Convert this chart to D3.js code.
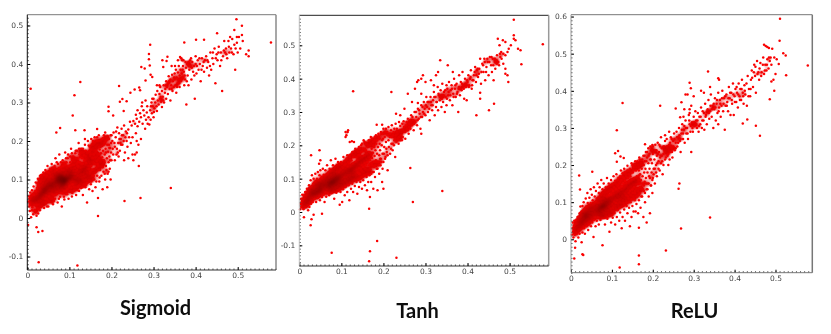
<!DOCTYPE html>
<html>
<head>
<meta charset="utf-8">
<script src="https://cdnjs.cloudflare.com/ajax/libs/d3/7.8.5/d3.min.js"></script>
<style>
    html, body { margin: 0; padding: 0; background: #fff; }
    svg { display: block; }
    .tick text { font-family: "DejaVu Sans", sans-serif; fill: #444; }
    .title { font-family: Lato, "Open Sans", sans-serif; font-weight: 700; fill: #111; }
</style>
</head>
<body>
<div id="content"></div>
<script>
// values, [x, y]
var xTicks = [0, 0.1, 0.2, 0.3, 0.4, 0.5];
var sigmoidTicks = [-0.1, 0, 0.1, 0.2, 0.3, 0.4, 0.5];
var tanhTicks = [-0.1, 0, 0.1, 0.2, 0.3, 0.4, 0.5];
var reluTicks = [0, 0.1, 0.2, 0.3, 0.4, 0.5, 0.6];

var sigmoidPoints = [
[.008,.336],[.027,-.115],[.119,-.123],[.026,-.036],[.036,-.034],[.022,-.024],[.002,-.018],[.168,.005],[.231,.044],[.269,.052],[.341,.078],[.126,.353],[.112,.319],[.108,.266],[.069,.222],[.078,.234],[.114,.228],[.136,.228],[.166,.231],[.218,.343],[.193,.289],[.193,.277],[.22,.302],[.226,.309],[.236,.303],[.204,.266],[.229,.278],[.245,.325],[.255,.334],[.266,.339],[.268,.332],
[.497,.516],[.51,.499],[.451,.48],[.492,.488],[.373,.456],[.401,.463],[.42,.463],[.579,.456],[.292,.45],[.289,.426],[.289,.412],[.291,.396],[.271,.392],[.279,.388],[.281,.357],[.293,.372],[.297,.366],[.323,.392],[.333,.419],[.331,.408],[.321,.41],[.463,.33],[.494,.385],[.398,.31],[.378,.295],
[.252,.252],[.256,.245],[.26,.258],[.262,.238],[.266,.25],[.268,.272],[.27,.262],[.274,.245],[.276,.28],[.278,.266],[.28,.232],[.282,.255],[.284,.274],[.285,.29],[.288,.262],[.29,.243],[.292,.28],[.293,.255],[.295,.3],[.296,.272],[.298,.29],[.3,.31],[.3,.262],[.302,.285],[.304,.3],[.305,.32],[.307,.29],[.308,.278],[.31,.305],[.312,.295],[.314,.322],[.315,.31],[.316,.34],[.318,.302],[.32,.33],[.32,.288],[.322,.315],[.324,.345],[.325,.3],[.327,.325],[.328,.335],[.33,.355],[.33,.31],[.332,.34],[.334,.322],[.335,.35],[.336,.368],[.338,.335],[.34,.36],[.34,.305],[.342,.345],[.344,.372],[.345,.33],[.346,.355],[.348,.34],[.35,.375],[.35,.36],[.352,.345],[.353,.385],[.354,.325],[.355,.365],[.357,.35],[.358,.378],[.36,.395],[.36,.36],[.362,.37],[.362,.34],[.364,.385],[.365,.355],[.366,.415],[.367,.375],[.368,.41],[.37,.365],[.37,.395],[.372,.38],[.373,.345],[.375,.36],[.376,.405],[.377,.39],[.38,.4],[.381,.37],[.383,.345],[.385,.385],[.387,.41],[.388,.395],[.39,.36],[.392,.405],[.394,.38],[.396,.395],[.4,.42],[.4,.4],[.402,.375],[.405,.41],[.407,.385],[.41,.4],[.412,.355],[.415,.415],[.417,.395],[.42,.38],[.422,.41],[.425,.42],[.427,.39],[.43,.405],[.432,.37],[.435,.43],[.437,.385],[.44,.415],[.442,.4],[.445,.44],[.447,.35],[.45,.425],[.452,.41],[.455,.445],[.458,.395],[.46,.43],[.465,.42],[.468,.46],[.47,.43],[.472,.44],[.475,.415],[.478,.46],[.48,.43],[.482,.47],[.484,.44],[.487,.465],[.49,.425],[.495,.44],[.498,.455],[.5,.43],[.503,.47],[.506,.44],[.51,.475],[.512,.46],[.52,.425],[.526,.42],[.526,.435],
[.202,.2],[.205,.222],[.208,.185],[.21,.21],[.212,.165],[.214,.235],[.216,.195],[.218,.22],[.22,.175],[.222,.205],[.224,.232],[.226,.19],[.228,.215],[.23,.24],[.232,.17],[.234,.225],[.236,.2],[.238,.185],[.24,.23],[.242,.21],[.244,.25],[.246,.195],[.248,.24],[.25,.21],[.23,.15],[.24,.155],[.25,.165],[.252,.15],[.256,.165],[.26,.17],[.265,.135],[.27,.205],[.26,.2],[.258,.22],[.264,.19],
[.002,.042],[.003,.057],[.004,.03],[.005,.05],[.006,.018],[.007,.066],[.008,.04],[.009,.002],[.01,.055],[.011,.072],[.012,.028],[.013,.048],[.014,.01],[.015,.082],[.016,.06],[.017,.035],[.018,.02],[.019,.07],[.02,.092],[.021,.05],[.021,.04],[.022,.006],[.023,.078],[.024,.025],[.024,.062],[.025,.102],[.026,.045],[.026,.012],[.027,.086],[.028,.035],[.028,.068],[.029,.055],[.03,.11],[.03,.02],[.031,.075],[.032,.094],[.032,.045],[.033,.06],[.034,.03],[.034,.085],[.035,.105],[.036,.052],[.036,.07],[.037,.04],[.038,.118],[.038,.09],[.039,.062],[.04,.026],[.04,.08],[.041,.1],[.042,.05],[.042,.072],[.043,.125],[.044,.088],[.044,.038],[.045,.06],[.046,.11],[.046,.078],[.047,.048],[.048,.135],[.048,.095],[.049,.066],[.05,.03],[.05,.084],[.051,.118],[.052,.056],[.052,.074],[.053,.1],[.054,.042],[.054,.128],[.055,.088],[.056,.065],[.056,.108],[.057,.08],[.058,.05],[.058,.14],[.059,.095],[.06,.072],[.06,.118],[.061,.036],[.062,.086],[.062,.105],[.063,.06],[.064,.13],[.064,.078],[.065,.098],[.066,.05],[.066,.115],[.067,.155],[.068,.088],[.068,.07],[.069,.106],[.07,.125],[.07,.062],[.071,.094],[.072,.04],[.072,.08],[.073,.14],[.074,.11],[.074,.1],[.075,.072],[.076,.165],[.076,.09],[.077,.12],[.078,.055],[.078,.085],[.079,.105],[.08,.132],[.08,.076],[.081,.096],[.082,.114],[.082,.03],[.083,.064],[.083,.09],[.084,.15],[.084,.104],[.085,.082],[.086,.125],[.086,.098],[.087,.07],[.088,.11],[.088,.048],[.089,.092],[.09,.17],[.09,.138],[.09,.102],[.091,.082],[.092,.118],[.092,.062],[.093,.096],[.094,.128],[.094,.106],[.095,.075],[.096,.155],[.096,.09],[.097,.112],[.098,.05],[.098,.1],[.099,.135],[.1,.084],[.1,.12],[.101,.068],[.102,.108],[.102,.145],[.103,.095],[.104,.18],[.104,.128],[.105,.078],[.106,.114],[.106,.056],[.107,.102],[.108,.138],[.108,.088],[.109,.16],[.11,.122],[.11,.07],[.111,.106],[.112,.148],[.112,.095],[.113,.13],[.114,.08],[.114,.115],[.115,.175],[.116,.105],[.116,.06],[.117,.14],[.118,.092],[.118,.125],[.119,.155],[.12,.11],[.12,.082],[.121,.134],[.122,.195],[.122,.1],[.123,.07],[.124,.12],[.124,.165],[.125,.145],[.126,.09],[.126,.112],[.127,.13],[.128,.18],[.128,.078],[.129,.105],[.13,.155],[.13,.124],[.131,.096],[.132,.14],[.132,.06],[.133,.115],[.134,.17],[.134,.088],[.135,.132],[.136,.15],[.136,.108],[.137,.19],[.138,.125],[.138,.08],[.139,.1],[.14,.16],[.14,.142],[.141,.118],[.142,.04],[.142,.09],[.143,.135],[.144,.2],[.144,.17],[.145,.11],[.146,.152],[.146,.128],[.147,.075],[.148,.185],[.148,.1],[.149,.143],[.15,.12],[.15,.165],[.151,.088],[.152,.135],[.152,.205],[.153,.155],[.154,.11],[.155,.178],[.155,.07],[.156,.145],[.157,.125],[.158,.19],[.158,.165],[.159,.1],[.16,.14],[.16,.21],[.161,.118],[.162,.158],[.162,.08],[.163,.175],[.164,.13],[.165,.2],[.165,.148],[.166,.11],[.167,.165],[.168,.19],[.168,.052],[.169,.135],[.17,.155],[.17,.215],[.171,.095],[.172,.178],[.173,.125],[.174,.148],[.174,.2],[.175,.168],[.176,.11],[.177,.188],[.178,.138],[.178,.158],[.179,.075],[.18,.208],[.18,.175],[.181,.12],[.182,.15],[.183,.195],[.184,.165],[.185,.1],[.186,.18],[.187,.135],[.188,.21],[.189,.155],[.19,.19],[.19,.08],[.191,.115],[.192,.172],[.193,.145],[.194,.205],[.195,.16],[.196,.128],[.197,.182],[.198,.1],[.199,.195],[.2,.15],[.2,.215],
// the dense part of the cloud
[.083,.097],[.071,.088],[.092,.103],[.077,.103],[.088,.087],[.064,.083],[.097,.117],[.081,.079],[.074,.095],[.086,.108],[.079,.091],[.085,.093],[.09,.097],[.076,.084],[.082,.101],[.087,.113],[.073,.077],[.068,.094],[.094,.092],[.099,.107],[.084,.086],[.078,.111],[.089,.081],[.095,.1],[.066,.074],[.103,.114],[.107,.097],[.101,.123],[.061,.077],[.093,.124],[.105,.106],[.111,.114],[.058,.071],[.08,.117],[.072,.101],[.109,.128],[.116,.122],[.114,.103],[.119,.135],[.122,.118],[.127,.122],[.124,.106],[.131,.131],[.135,.12],[.129,.141],[.138,.137],[.142,.128],[.147,.147],[.145,.135],[.141,.153],[.152,.146],[.155,.156],[.149,.16],[.158,.142],[.162,.169],[.165,.16],[.168,.151],[.159,.176],[.172,.166],[.056,.09],[.052,.064],[.047,.071],[.043,.06],[.049,.085],[.054,.079],[.059,.063],[.063,.097],[.067,.108],[.039,.072],[.035,.064],[.037,.056],[.041,.083],[.044,.067],[.031,.055],[.033,.071],[.045,.092],[.028,.05],[.025,.055],[.022,.068],[.019,.045],[.016,.05],[.013,.062],[.01,.04],[.029,.082],[.034,.098],[.04,.112],[.046,.12],[.051,.105],[.057,.124],[.061,.112],[.065,.12],[.07,.113],[.075,.13],[.08,.145],[.085,.135],[.089,.125],[.093,.145],[.098,.125],[.103,.135],[.107,.15],[.111,.138],[.115,.155],[.12,.145],[.125,.158],[.13,.17],[.135,.163],[.139,.175],[.144,.155],[.148,.172],[.153,.19],[.157,.182],[.16,.195],[.164,.188],[.169,.2],[.173,.19],[.177,.205],[.182,.215],[.186,.2],[.191,.213],[.195,.182],[.199,.17],[.187,.17],[.183,.145],[.179,.132],[.175,.145],[.171,.125],[.167,.14],[.163,.12],[.158,.11],[.154,.125],[.15,.105],[.146,.098],[.143,.115],[.139,.085],[.135,.098],[.131,.08],[.127,.092],[.123,.085],[.119,.072],[.115,.09],[.111,.08],[.107,.065],[.103,.07],[.099,.08],[.095,.062],[.091,.07],[.087,.055],[.083,.075],[.079,.065],[.075,.05],[.071,.07],[.067,.06],[.063,.045],[.059,.04],[.055,.05],[.051,.045],[.047,.03],[.043,.04],[.039,.04],[.035,.038],[.031,.032],[.027,.025],[.023,.035],[.02,.015],[.017,.05],[.014,.04],[.011,.02],[.008,.05],[.006,.035],[.024,.09],[.027,.1],[.033,.112],[.039,.098],[.044,.105],[.05,.1],[.055,.115],[.06,.13],[.065,.135],[.07,.145],[.075,.118],[.082,.125],[.087,.142],[.092,.155],[.097,.165],[.102,.16],[.106,.168],[.11,.152],[.114,.168],[.118,.175],[.123,.18],[.127,.17],[.132,.18],[.137,.205],[.142,.168],[.146,.188],[.151,.178],[.156,.2],[.161,.185],[.166,.21],[.171,.185],[.176,.195],[.181,.19],[.185,.222],[.19,.205],[.194,.19],[.198,.215],[.203,.18],[.207,.195],[.211,.225],[.215,.17],[.219,.205],[.223,.19],[.204,.165],[.208,.15],[.213,.18],[.217,.16],[.221,.195],[.225,.215],[.229,.2],[.233,.21],[.237,.22],[.193,.12],[.197,.15],[.188,.125],[.184,.115],[.18,.14],[.176,.135],[.172,.105],[.168,.125],[.164,.095],[.16,.125],[.156,.1],[.152,.095],[.148,.115],[.144,.105],[.14,.11],[.136,.125],[.132,.1],[.128,.115],[.124,.095],[.12,.1],[.116,.095],[.112,.075],[.108,.115],[.104,.105],[.1,.097],[.096,.108],[.092,.09],[.088,.1],[.084,.112],[.08,.105],[.076,.098],[.072,.11],[.068,.1],[.064,.09],[.06,.085],[.056,.095],[.052,.088],[.048,.08],[.044,.075],[.04,.07],[.036,.08],[.032,.065],[.028,.06],[.024,.05],
[.258,.268],[.262,.28],[.272,.29],[.286,.245],[.294,.29],[.301,.275],[.309,.33],[.317,.315],[.323,.305],[.329,.345],[.337,.355],[.343,.335],[.349,.365],[.356,.34],[.361,.35],[.366,.36],[.369,.385],[.374,.37],[.379,.355],[.384,.395],[.391,.39],[.397,.37],[.403,.395],[.409,.415],[.414,.385],[.419,.405],[.428,.41],[.434,.395],[.441,.43],[.448,.415],[.454,.43],[.461,.41],[.467,.435],[.473,.425],[.479,.445],[.486,.43],[.492,.45],[.498,.47],[.343,.395],[.351,.395],[.358,.41],[.363,.418],[.371,.41],[.383,.405],[.389,.415],[.308,.345],[.314,.345],[.297,.31],[.281,.305],[.273,.3]
];

var tanhPoints = [
[.51,.577],[.579,.503],[.128,.362],[.219,.36],[.34,.063],[.27,.03],[.264,.132],[.166,.01],[.168,.045],[.185,-.087],[.168,-.118],[.166,-.148],[.231,-.137],[.077,-.122],[.027,-.04],[.029,-.022],[.034,-.008],[.011,-.016],[.054,-.005],[.028,.17],[.048,.185],[.05,.155],[.047,.145],[.115,.24],[.11,.24],[.11,.225],[.112,.23],[.116,.245],[.12,.21],[.13,.21],[.125,.212],[.335,.455],[.421,.29],[.451,.305],[.463,.325],[.43,.34],[.43,.358],[.528,.443],[.526,.485],[.52,.49],[.184,.262],[.197,.262],[.2,.25],[.23,.295],[.24,.29],[.25,.31],[.258,.355],[.275,.37],[.28,.39],[.282,.327],[.268,.33],[.29,.355],[.294,.41],[.29,.4],[.283,.395],[.3,.39],[.313,.395],[.32,.38],[.325,.41],[.33,.42],[.353,.44],[.365,.42],
[.472,.52],[.476,.5],[.484,.515],[.49,.51],[.51,.52],[.514,.515],[.51,.53],[.498,.49],[.503,.5],[.48,.48],[.485,.475],[.49,.47],[.495,.48],[.478,.465],[.47,.47],[.465,.46],[.47,.445],[.475,.44],[.485,.445],[.49,.43],[.497,.39],[.495,.41],[.49,.415],
[.212,.215],[.216,.235],[.218,.19],[.22,.225],[.222,.205],[.224,.24],[.226,.215],[.228,.165],[.23,.23],[.232,.25],[.234,.22],[.236,.205],[.238,.24],[.24,.258],[.242,.23],[.244,.215],[.246,.245],[.248,.272],[.25,.24],[.252,.22],[.254,.26],[.256,.25],[.258,.28],[.26,.235],[.262,.265],[.264,.25],[.266,.29],[.268,.26],[.27,.275],[.272,.245],[.274,.3],[.276,.27],[.278,.285],[.28,.26],[.282,.31],[.284,.28],[.286,.295],[.288,.25],[.29,.32],[.29,.235],[.292,.285],[.294,.3],[.296,.33],[.298,.31],[.3,.29],[.302,.345],[.304,.315],[.306,.3],[.308,.33],[.31,.275],[.312,.345],[.314,.32],[.316,.305],[.318,.335],[.32,.36],[.322,.29],[.324,.345],[.325,.315],[.327,.33],[.329,.375],[.33,.305],[.332,.35],[.334,.335],[.336,.365],[.338,.315],[.34,.385],[.34,.35],[.342,.33],[.344,.36],[.346,.3],[.348,.345],[.35,.38],[.35,.32],[.352,.37],[.354,.35],[.356,.39],[.358,.335],[.36,.365],[.362,.38],[.364,.32],[.366,.355],[.368,.4],[.37,.37],[.372,.345],[.374,.385],[.376,.36],[.378,.3],[.38,.41],[.38,.375],[.382,.35],[.384,.39],[.386,.365],[.388,.42],[.39,.38],[.392,.34],[.394,.4],[.396,.375],[.398,.335],[.4,.39],[.402,.41],[.404,.38],[.406,.4],[.408,.425],[.41,.37],[.412,.395],[.415,.41],[.418,.435],[.42,.39],[.422,.425],[.425,.405],[.428,.43],[.43,.46],[.432,.385],[.435,.445],[.438,.42],[.44,.46],[.442,.395],[.445,.435],[.448,.45],[.45,.41],[.453,.465],[.456,.44],[.458,.42],[.46,.46],[.462,.395],[.465,.45],
[.002,.008],[.003,.025],[.004,.04],[.005,.015],[.006,.03],[.007,.052],[.008,.02],[.009,.036],[.01,.008],[.011,.05],[.012,.026],[.013,.04],[.014,.06],[.015,.015],[.016,.032],[.017,.048],[.018,.07],[.019,.022],[.02,.04],[.021,.058],[.021,.005],[.022,.03],[.023,.08],[.024,.05],[.024,.015],[.025,.066],[.026,.038],[.027,.095],[.028,.055],[.028,.025],[.029,.075],[.03,.045],[.03,.11],[.031,.062],[.032,.03],[.033,.085],[.034,.052],[.034,.1],[.035,.07],[.036,.04],[.037,.06],[.038,.09],[.038,.115],[.039,.048],[.04,.076],[.04,.03],[.041,.066],[.042,.1],[.042,.056],[.043,.085],[.044,.12],[.044,.042],[.045,.072],[.046,.062],[.046,.094],[.047,.05],[.048,.11],[.048,.08],[.049,.035],[.05,.068],[.05,.125],[.051,.056],[.052,.09],[.052,.074],[.053,.105],[.054,.045],[.054,.062],[.055,.082],[.056,.13],[.056,.098],[.057,.07],[.058,.052],[.058,.112],[.059,.086],[.06,.03],[.06,.075],[.061,.1],[.062,.06],[.062,.125],[.063,.09],[.064,.046],[.064,.078],[.065,.11],[.066,.068],[.066,.14],[.067,.095],[.068,.058],[.068,.084],[.069,.118],[.07,.074],[.07,.102],[.071,.05],[.072,.09],[.072,.13],[.073,.066],[.074,.11],[.074,.08],[.075,.155],[.076,.096],[.076,.056],[.077,.122],[.078,.075],[.078,.088],[.079,.104],[.08,.14],[.08,.064],[.081,.092],[.082,.115],[.082,.08],[.083,.04],[.084,.098],[.084,.13],[.085,.072],[.086,.108],[.086,.16],[.087,.086],[.088,.058],[.088,.12],[.089,.095],[.09,.075],[.09,.14],[.091,.105],[.092,.088],[.092,.15],[.093,.066],[.094,.118],[.094,.098],[.095,.08],[.096,.13],[.096,.022],[.097,.108],[.098,.09],[.098,.06],[.099,.15],[.1,.115],[.1,.078],[.101,.1],[.102,.135],[.102,.03],[.103,.09],[.104,.12],[.104,.068],[.105,.165],[.106,.105],[.106,.085],[.107,.14],[.108,.112],[.108,.05],[.109,.095],[.11,.128],[.11,.075],[.111,.155],[.112,.105],[.112,.09],[.113,.12],[.114,.17],[.114,.06],[.115,.135],[.116,.098],[.116,.11],[.117,.08],[.118,.148],[.118,.125],[.119,.035],[.12,.105],[.12,.165],[.121,.09],[.122,.135],[.122,.118],[.123,.07],[.124,.155],[.124,.1],[.125,.128],[.126,.18],[.126,.085],[.127,.112],[.128,.145],[.128,.06],[.129,.125],[.13,.17],[.13,.098],[.131,.138],[.132,.078],[.132,.115],[.133,.19],[.134,.15],[.134,.105],[.135,.128],[.136,.09],[.136,.165],[.137,.14],[.138,.055],[.138,.118],[.139,.18],[.14,.155],[.14,.1],[.141,.132],[.142,.075],[.142,.195],[.143,.145],[.144,.115],[.144,.17],[.145,.09],[.146,.158],[.146,.13],[.147,.2],[.148,.105],[.148,.142],[.149,.07],[.15,.182],[.15,.122],[.151,.155],[.152,.095],[.152,.135],[.153,.215],[.154,.168],[.154,.11],[.155,.148],[.156,.19],[.156,.08],[.157,.128],[.158,.16],[.158,.205],[.159,.14],[.16,.105],[.16,.175],[.161,.065],[.162,.15],[.162,.125],[.163,.195],[.164,.165],[.164,.09],[.165,.215],[.166,.14],[.166,.18],[.167,.11],[.168,.155],[.168,.2],[.169,.128],[.17,.172],[.17,.225],[.171,.09],[.172,.145],[.172,.19],[.173,.162],[.174,.12],[.175,.21],[.175,.178],[.176,.07],[.177,.15],[.178,.195],[.178,.135],[.179,.168],[.18,.225],[.18,.105],[.181,.185],[.182,.155],[.183,.205],[.184,.13],[.185,.175],[.186,.065],[.187,.195],[.188,.15],[.189,.225],[.19,.17],[.19,.115],[.191,.205],[.192,.185],[.193,.14],[.194,.16],[.195,.235],[.196,.2],[.197,.09],[.198,.175],[.199,.22],[.2,.15],[.2,.07],[.202,.195],[.204,.24],[.205,.165],[.206,.21],[.208,.18],[.21,.125],[.21,.23],
// the dense part of the cloud
[.081,.091],[.076,.087],[.086,.094],[.073,.083],[.079,.097],[.084,.084],[.089,.101],[.071,.09],[.092,.107],[.067,.078],[.082,.103],[.087,.088],[.094,.093],[.077,.081],[.098,.112],[.074,.094],[.069,.073],[.065,.084],[.083,.109],[.09,.113],[.096,.102],[.101,.109],[.104,.116],[.099,.096],[.107,.121],[.11,.113],[.113,.127],[.116,.119],[.119,.131],[.122,.125],[.121,.112],[.126,.136],[.129,.131],[.132,.142],[.135,.136],[.127,.12],[.138,.148],[.141,.144],[.144,.157],[.147,.15],[.15,.162],[.153,.155],[.156,.168],[.159,.16],[.162,.172],[.165,.166],[.168,.178],[.061,.073],[.057,.064],[.054,.075],[.051,.061],[.048,.065],[.045,.056],[.043,.067],[.041,.052],[.038,.058],[.035,.048],[.033,.06],[.03,.052],[.027,.045],[.025,.03],[.023,.042],[.02,.03],[.018,.036],[.015,.025],[.012,.018],[.059,.093],[.056,.088],[.053,.082],[.05,.092],[.047,.085],[.044,.078],[.041,.088],[.038,.075],[.035,.083],[.032,.07],[.029,.062],[.026,.072],[.023,.062],[.02,.052],[.062,.105],[.065,.098],[.068,.112],[.071,.105],[.074,.122],[.077,.112],[.08,.125],[.083,.122],[.086,.135],[.089,.128],[.092,.135],[.095,.14],[.098,.128],[.101,.145],[.104,.132],[.107,.152],[.11,.145],[.113,.16],[.116,.15],[.119,.17],[.122,.155],[.125,.175],[.128,.165],[.131,.18],[.134,.175],[.137,.185],[.14,.17],[.143,.19],[.146,.18],[.149,.205],[.152,.19],[.155,.21],[.158,.185],[.161,.205],[.164,.2],[.167,.215],[.17,.205],[.173,.22],[.176,.2],[.179,.215],[.182,.23],[.185,.215],[.188,.235],[.191,.22],[.194,.24],[.197,.215],[.2,.235],[.203,.225],[.206,.25],[.209,.24],[.212,.255],[.215,.225],[.218,.245],[.22,.26],[.223,.23],[.226,.25],[.229,.265],[.233,.24],[.237,.27],[.241,.245],[.245,.265],[.072,.064],[.075,.07],[.078,.06],[.081,.07],[.084,.062],[.087,.075],[.09,.065],[.093,.08],[.096,.072],[.099,.08],[.102,.075],[.105,.09],[.108,.08],[.111,.092],[.114,.085],[.117,.098],[.12,.09],[.123,.1],[.126,.095],[.129,.11],[.132,.098],[.135,.11],[.138,.1],[.141,.115],[.144,.1],[.147,.125],[.15,.105],[.153,.12],[.156,.112],[.159,.125],[.162,.115],[.165,.125],[.168,.13],[.171,.115],[.174,.14],[.177,.12],[.18,.14],[.183,.15],[.186,.13],[.189,.14],[.192,.16],[.195,.15],[.198,.13],[.201,.175],[.204,.16],[.207,.19],[.21,.17],[.213,.195],[.216,.175],[.219,.205],[.222,.185],[.225,.2],[.228,.22],[.231,.21],[.234,.235],[.237,.225],[.24,.215],[.243,.24],[.246,.225],[.249,.255],[.252,.24],[.255,.27],[.258,.245],[.261,.255],[.263,.275],[.266,.27],[.269,.285],[.273,.265],[.277,.3],[.281,.275],[.285,.305],[.289,.285],[.293,.315],[.297,.295],[.301,.32],[.305,.33],[.309,.31],[.313,.33],[.317,.32],[.321,.345],[.326,.33],[.331,.355],[.335,.345],[.339,.34],[.343,.35],[.347,.365],[.351,.34],[.355,.36],[.359,.35],[.363,.37],[.367,.345],[.371,.38],[.375,.355],[.379,.37],[.383,.37],[.387,.385],[.391,.37],[.395,.385],[.399,.395],[.403,.375],[.407,.405],[.411,.38],[.414,.395],[.417,.42],[.421,.41],[.424,.43],[.427,.415],[.433,.42],[.437,.44],[.441,.45],[.444,.42],[.447,.46],[.452,.45],[.457,.465],[.461,.44],[.466,.43],[.469,.455],[.473,.45],[.477,.475],[.481,.46]
];

var reluPoints = [
[.511,.594],[.579,.468],[.526,.442],[.126,.367],[.218,.36],[.112,.294],[.34,.059],[.269,.029],[.263,.136],[.166,.031],[.166,-.044],[.166,-.067],[.232,-.03],[.119,-.076],[.077,-.016],[.028,-.04],[.03,-.042],[.008,-.052],[.01,-.023],[.02,.172],[.052,.182],[.022,.134],[.462,.279],[.452,.306],[.431,.323],[.42,.312],[.486,.377],[.335,.452],[.36,.434],[.29,.422],[.293,.407],[.27,.369],[.256,.352],[.267,.329],[.108,.232],[.115,.238],[.121,.223],[.129,.219],[.112,.209],[.181,.256],[.194,.25],[.199,.254],[.472,.524],[.51,.535],[.484,.515],[.519,.501],[.525,.495],[.476,.521],[.48,.518],[.492,.513],[.497,.49],[.503,.485],[.488,.49],[.508,.472],[.5,.445],[.49,.425],[.495,.43],[.497,.4],[.362,.43],[.34,.41],[.325,.395],[.318,.4],[.3,.385],[.28,.39],[.285,.39],[.294,.36],[.29,.35],[.29,.34],[.277,.35],[.275,.33],[.24,.29],[.23,.28],[.23,.265],[.22,.275],[.265,.15],
[.212,.23],[.214,.19],[.216,.255],[.218,.22],[.22,.205],[.222,.245],[.224,.175],[.226,.23],[.228,.25],[.23,.215],[.232,.24],[.234,.27],[.236,.225],[.238,.2],[.24,.255],[.242,.235],[.244,.275],[.246,.245],[.248,.22],[.25,.265],[.252,.285],[.254,.24],[.256,.26],[.258,.29],[.26,.25],[.262,.275],[.264,.3],[.266,.265],[.268,.235],[.27,.285],[.272,.31],[.274,.27],[.276,.295],[.278,.26],[.28,.32],[.282,.285],[.284,.3],[.286,.27],[.288,.335],[.29,.31],[.292,.29],[.294,.235],[.296,.315],[.298,.29],[.3,.33],[.302,.305],[.304,.345],[.306,.32],[.308,.3],[.31,.34],[.312,.29],[.314,.33],[.316,.31],[.318,.355],[.32,.3],[.322,.345],[.324,.32],[.326,.295],[.328,.365],[.33,.335],[.332,.31],[.334,.35],[.336,.375],[.338,.325],[.34,.345],[.342,.39],[.344,.33],[.346,.36],[.348,.3],[.35,.35],[.352,.38],[.354,.32],[.356,.365],[.358,.34],[.36,.395],[.36,.31],[.362,.355],[.364,.375],[.366,.33],[.368,.36],[.37,.4],[.372,.345],[.374,.38],[.376,.295],[.378,.36],[.38,.39],[.382,.37],[.384,.345],[.386,.41],[.388,.38],[.39,.335],[.392,.395],[.394,.365],[.396,.42],[.398,.335],[.4,.385],[.402,.405],[.404,.37],[.406,.395],[.408,.355],[.41,.42],[.412,.385],[.414,.405],[.416,.375],[.418,.43],[.42,.395],[.422,.365],[.424,.415],[.426,.39],[.43,.36],[.432,.44],[.435,.405],[.438,.385],[.44,.43],[.442,.455],[.445,.41],[.448,.47],[.45,.44],[.452,.395],[.455,.48],[.458,.45],[.46,.43],[.463,.475],[.466,.45],[.47,.49],[.472,.445],[.475,.47],[.478,.455],[.48,.485],[.483,.46],[.486,.48],[.49,.47],
[.002,.012],[.003,.03],[.004,.045],[.005,.02],[.006,.005],[.007,.036],[.008,.05],[.009,.025],[.01,.04],[.011,-.005],[.012,.03],[.013,.052],[.014,.015],[.015,.042],[.016,.06],[.017,.025],[.018,.005],[.019,.05],[.02,.035],[.021,.07],[.021,.015],[.022,.045],[.023,.088],[.024,.028],[.024,.06],[.025,.04],[.026,-.008],[.026,.075],[.027,.052],[.028,.018],[.028,.09],[.029,.035],[.03,.065],[.03,.045],[.031,.1],[.032,.03],[.032,.058],[.033,.08],[.034,.042],[.034,.015],[.035,.07],[.036,.11],[.036,.052],[.037,.088],[.038,.035],[.038,.062],[.039,.078],[.04,.045],[.04,.125],[.041,.098],[.042,.056],[.042,.025],[.043,.072],[.044,.088],[.044,.04],[.045,.112],[.046,.062],[.046,.05],[.047,.08],[.048,.135],[.048,.098],[.049,.035],[.05,.07],[.05,.056],[.051,.12],[.052,.088],[.052,.045],[.053,.105],[.054,.066],[.054,.08],[.055,.006],[.056,.14],[.056,.052],[.057,.095],[.058,.074],[.058,.115],[.059,.06],[.06,.085],[.06,.035],[.061,.13],[.062,.07],[.062,.1],[.063,.05],[.064,.09],[.064,.078],[.065,.15],[.066,.112],[.066,.06],[.067,.085],[.068,.04],[.068,.125],[.069,.098],[.07,.07],[.07,.14],[.071,.08],[.072,.108],[.072,.052],[.073,.09],[.074,.16],[.074,.064],[.075,.12],[.076,.1],[.076,.082],[.077,.135],[.078,.058],[.078,.092],[.079,.11],[.08,.072],[.08,.15],[.081,.085],[.082,.125],[.082,.098],[.083,.04],[.084,.065],[.084,.105],[.085,.14],[.086,.085],[.086,.078],[.087,.115],[.088,.095],[.088,.165],[.089,.055],[.09,.13],[.09,.105],[.091,.072],[.092,.088],[.092,.15],[.093,.118],[.094,.02],[.094,.098],[.095,.065],[.096,.135],[.096,.108],[.097,.082],[.098,.16],[.098,.045],[.099,.12],[.1,.095],[.1,.075],[.101,.145],[.102,.11],[.102,.058],[.103,.13],[.104,.09],[.104,.17],[.105,.102],[.106,.07],[.106,.122],[.107,.15],[.108,.112],[.108,.04],[.109,.085],[.11,.135],[.11,.098],[.111,.175],[.112,.06],[.112,.118],[.113,.106],[.114,.145],[.114,.078],[.115,.128],[.116,.09],[.116,.165],[.117,.115],[.118,.05],[.118,.138],[.119,.1],[.12,.155],[.12,.072],[.121,.125],[.122,.185],[.122,.11],[.123,.088],[.124,.142],[.124,.03],[.125,.118],[.126,.168],[.126,.06],[.127,.132],[.128,.098],[.128,.15],[.129,.112],[.13,.08],[.13,.19],[.131,.125],[.132,.158],[.132,.05],[.133,.14],[.134,.105],[.134,.175],[.135,.118],[.136,.09],[.136,.15],[.137,.132],[.138,.198],[.138,.07],[.139,.165],[.14,.11],[.14,.14],[.141,.125],[.142,.185],[.142,.085],[.143,.155],[.144,.035],[.144,.13],[.145,.17],[.146,.1],[.146,.145],[.147,.118],[.148,.205],[.148,.06],[.149,.16],[.15,.135],[.15,.09],[.151,.18],[.152,.115],[.152,.15],[.153,.075],[.154,.195],[.154,.14],[.155,.165],[.156,.105],[.156,.125],[.157,.21],[.158,.155],[.158,.075],[.159,.185],[.16,.135],[.16,.095],[.161,.17],[.162,.15],[.162,.115],[.163,.2],[.164,.07],[.164,.16],[.165,.135],[.166,.185],[.166,.105],[.167,.22],[.168,.15],[.168,.125],[.169,.175],[.17,.085],[.17,.2],[.171,.16],[.172,.135],[.173,.19],[.174,.115],[.174,.215],[.175,.17],[.176,.15],[.177,.06],[.178,.2],[.178,.13],[.179,.18],[.18,.225],[.18,.155],[.181,.1],[.182,.19],[.183,.165],[.184,.21],[.185,.045],[.185,.135],[.186,.235],[.187,.18],[.188,.15],[.189,.205],[.19,.225],[.19,.115],[.191,.17],[.192,.19],[.193,.07],[.194,.215],[.195,.145],[.196,.24],[.197,.18],[.198,.205],[.199,.125],[.2,.165],[.2,.23],[.202,.19],[.204,.215],[.205,.15],[.206,.24],[.208,.2],[.21,.17],[.21,.225],
// the dense part of the cloud
[.079,.088],[.074,.085],[.084,.093],[.071,.079],[.077,.094],[.082,.082],[.087,.098],[.069,.087],[.09,.104],[.066,.073],[.08,.1],[.085,.086],[.092,.09],[.075,.076],[.096,.108],[.072,.092],[.068,.068],[.063,.08],[.081,.108],[.089,.112],[.094,.1],[.099,.106],[.102,.114],[.097,.093],[.105,.118],[.108,.108],[.111,.124],[.114,.116],[.117,.128],[.12,.122],[.119,.108],[.124,.132],[.127,.127],[.13,.137],[.133,.13],[.125,.115],[.136,.144],[.139,.138],[.142,.15],[.145,.143],[.148,.155],[.151,.148],[.154,.16],[.157,.15],[.16,.165],[.163,.155],[.166,.172],[.059,.07],[.055,.06],[.052,.07],[.049,.06],[.046,.07],[.043,.05],[.041,.065],[.039,.055],[.036,.062],[.033,.048],[.031,.056],[.028,.045],[.025,.05],[.023,.035],[.02,.042],[.018,.028],[.015,.032],[.012,.02],[.009,.012],[.057,.085],[.054,.092],[.051,.08],[.048,.088],[.045,.078],[.042,.085],[.039,.068],[.036,.075],[.033,.065],[.03,.075],[.027,.065],[.024,.072],[.021,.055],[.018,.06],[.06,.1],[.063,.11],[.066,.098],[.069,.112],[.072,.122],[.075,.108],[.078,.125],[.081,.118],[.084,.13],[.087,.128],[.09,.14],[.093,.132],[.096,.145],[.099,.135],[.102,.148],[.105,.14],[.108,.158],[.111,.148],[.114,.16],[.117,.15],[.12,.17],[.123,.16],[.126,.178],[.129,.165],[.132,.18],[.135,.17],[.138,.185],[.141,.175],[.144,.19],[.147,.18],[.15,.2],[.153,.185],[.156,.2],[.159,.195],[.162,.21],[.165,.195],[.168,.215],[.171,.205],[.174,.2],[.177,.225],[.18,.21],[.183,.235],[.186,.22],[.189,.245],[.192,.23],[.195,.215],[.198,.24],[.2,.25],[.203,.235],[.206,.255],[.209,.24],[.212,.26],[.215,.235],[.218,.25],[.222,.225],[.226,.25],[.23,.24],[.234,.25],[.238,.24],[.242,.26],[.246,.27],[.07,.06],[.073,.068],[.076,.058],[.079,.068],[.082,.058],[.085,.07],[.088,.06],[.091,.078],[.094,.068],[.097,.075],[.1,.065],[.103,.085],[.106,.072],[.109,.09],[.112,.08],[.115,.095],[.118,.085],[.121,.098],[.124,.088],[.127,.105],[.13,.092],[.133,.11],[.136,.1],[.139,.115],[.142,.1],[.145,.12],[.148,.108],[.151,.125],[.154,.11],[.157,.13],[.16,.115],[.163,.13],[.166,.12],[.169,.14],[.172,.115],[.175,.135],[.178,.145],[.181,.125],[.184,.15],[.187,.135],[.19,.15],[.193,.165],[.196,.145],[.199,.16],[.202,.175],[.205,.19],[.208,.18],[.211,.205],[.214,.21],[.217,.185],[.22,.225],[.223,.21],[.226,.2],[.229,.235],[.232,.22],[.235,.245],[.238,.23],[.241,.215],[.244,.25],[.247,.235],[.25,.25],[.253,.27],[.256,.245],[.259,.275],[.262,.26],[.265,.28],[.268,.27],[.271,.295],[.274,.285],[.277,.305],[.281,.3],[.285,.285],[.289,.32],[.293,.305],[.297,.3],[.301,.315],[.305,.31],[.309,.32],[.313,.305],[.317,.33],[.321,.32],[.325,.34],[.329,.33],[.333,.345],[.337,.34],[.341,.36],[.345,.35],[.349,.365],[.353,.355],[.357,.375],[.361,.345],[.365,.365],[.369,.38],[.373,.365],[.377,.385],[.381,.36],[.385,.38],[.389,.395],[.393,.375],[.397,.39],[.401,.37],[.405,.41],[.409,.39],[.413,.375],[.417,.405],[.421,.385],[.425,.4],[.429,.42],[.434,.385],[.439,.405],[.443,.435],[.447,.45],[.451,.465],[.456,.445],[.461,.46],[.465,.44],[.469,.47],[.474,.455],[.479,.47],[.484,.49]
];

var titles = ["Sigmoid", "Tanh", "ReLU"];

// frame + scale setup for each panel, in page pixels
var panels = [
    { title: titles[0], points: sigmoidPoints, yTicks: sigmoidTicks, left: 27.3, right: 276, top: 14.7, bottom: 270, xMax: .591, yMin: -.135, yMax: .528, titleX: 155.5, titleY: 315, sides: { top: "#7a7a7a", right: "#8a8a8a", left: "#111", bottom: "#333" } },
    { title: titles[1], points: tanhPoints, yTicks: tanhTicks, left: 299.3, right: 548.7, top: 15.3, bottom: 266, xMax: .593, yMin: -.162, yMax: .59, titleX: 417.5, titleY: 318, sides: { top: "#222", right: "#999", left: "#bbb", bottom: "#333" } },
    { title: titles[2], points: reluPoints, yTicks: reluTicks, left: 571, right: 812.3, top: 14.7, bottom: 272.7, xMax: .59, yMin: -.09, yMax: .605, titleX: 694.5, titleY: 318, sides: { top: "#777", right: "#777", left: "#999", bottom: "#777" } }
];

var svg = d3.select("#content").append("svg")
    .attr("width", 831)
    .attr("height", 334);

var defs = svg.append("defs");

// the picture is a resampled screenshot, everything is a bit soft
defs.append("filter").attr("id", "soft")
    .append("feGaussianBlur").attr("stdDeviation", .3);

// fills the gaps of the cloud: survives only where the dots are close together
var fill = defs.append("filter").attr("id", "cloud")
    .attr("x", "-5%").attr("y", "-5%").attr("width", "110%").attr("height", "110%");
fill.append("feGaussianBlur").attr("stdDeviation", 2.2);
fill.append("feComponentTransfer").append("feFuncA")
    .attr("type", "table")
    .attr("tableValues", "0 0 0 0 .45 1 1 1 1 1 1");

// dark layer: only where many dots pile up, single dots stay plain red
var density = defs.append("filter").attr("id", "density")
    .attr("x", "-5%").attr("y", "-5%").attr("width", "110%").attr("height", "110%");
density.append("feGaussianBlur").attr("stdDeviation", 2);
density.append("feComponentTransfer").append("feFuncA")
    .attr("type", "table")
    .attr("tableValues", "0 0 .1 .25 .45 .65 .85 .95 1 1 1");

function dots(parent, points, x, y, color, alpha) {
    return parent.selectAll("circle")
        .data(points)
        .enter().append("circle")
        .attr("cx", function (d) { return x(d[0]); })
        .attr("cy", function (d) { return y(d[1]); })
        .attr("r", 1.25)
        .attr("fill", color)
        .attr("fill-opacity", alpha);
}

panels.forEach(function (p) {
    var x = d3.scaleLinear().domain([0, p.xMax]).range([p.left, p.right]);
    var y = d3.scaleLinear().domain([p.yMin, p.yMax]).range([p.bottom, p.top]);
    var g = svg.append("g").attr("filter", "url(#soft)");

    dots(g.append("g").attr("filter", "url(#cloud)"), p.points, x, y, "#f00000", 1);
    dots(g.append("g"), p.points, x, y, "#fa0000", 1);
    dots(g.append("g").attr("filter", "url(#density)"), p.points, x, y, "#000", .3);

    // minor ticks every 0.01
    var xMinor = d3.axisBottom(x).tickValues(d3.range(0, p.xMax, .01)).tickSize(-1.5).tickFormat("");
    var yMinor = d3.axisLeft(y).tickValues(d3.range(Math.ceil(p.yMin * 100), p.yMax * 100).map(function (v) { return v / 100; })).tickSize(-1.5).tickFormat("");
    g.append("g").attr("transform", "translate(0," + p.bottom + ")").call(xMinor)
        .call(function (s) { s.select(".domain").remove(); s.selectAll("line").attr("stroke", "#555"); });
    g.append("g").attr("transform", "translate(" + p.left + ",0)").call(yMinor)
        .call(function (s) { s.select(".domain").remove(); s.selectAll("line").attr("stroke", "#555"); });

    var xAxis = d3.axisBottom(x).tickValues(xTicks).tickSize(-3).tickPadding(3).tickFormat(String);
    var yAxis = d3.axisLeft(y).tickValues(p.yTicks).tickSize(-3).tickPadding(4).tickFormat(String);
    g.append("g").attr("transform", "translate(0," + p.bottom + ")").call(xAxis)
        .call(function (s) { s.select(".domain").remove(); s.selectAll("text").attr("font-size", 7.5); });
    g.append("g").attr("transform", "translate(" + p.left + ",0)").call(yAxis)
        .call(function (s) { s.select(".domain").remove(); s.selectAll("text").attr("font-size", 7.5); });

    // frame, each side has its own shade
    g.append("line").attr("x1", p.left).attr("x2", p.right).attr("y1", p.top).attr("y2", p.top).attr("stroke", p.sides.top).attr("stroke-width", 1);
    g.append("line").attr("x1", p.right).attr("x2", p.right).attr("y1", p.top).attr("y2", p.bottom).attr("stroke", p.sides.right).attr("stroke-width", 1.5);
    g.append("line").attr("x1", p.left).attr("x2", p.left).attr("y1", p.top).attr("y2", p.bottom).attr("stroke", p.sides.left).attr("stroke-width", 1);
    g.append("line").attr("x1", p.left).attr("x2", p.right).attr("y1", p.bottom).attr("y2", p.bottom).attr("stroke", p.sides.bottom).attr("stroke-width", 1);

    g.append("text").attr("class", "title")
        .attr("x", p.titleX)
        .attr("y", p.titleY)
        .attr("text-anchor", "middle")
        .attr("font-size", 20)
        .text(p.title);
});
</script>
</body>
</html>
